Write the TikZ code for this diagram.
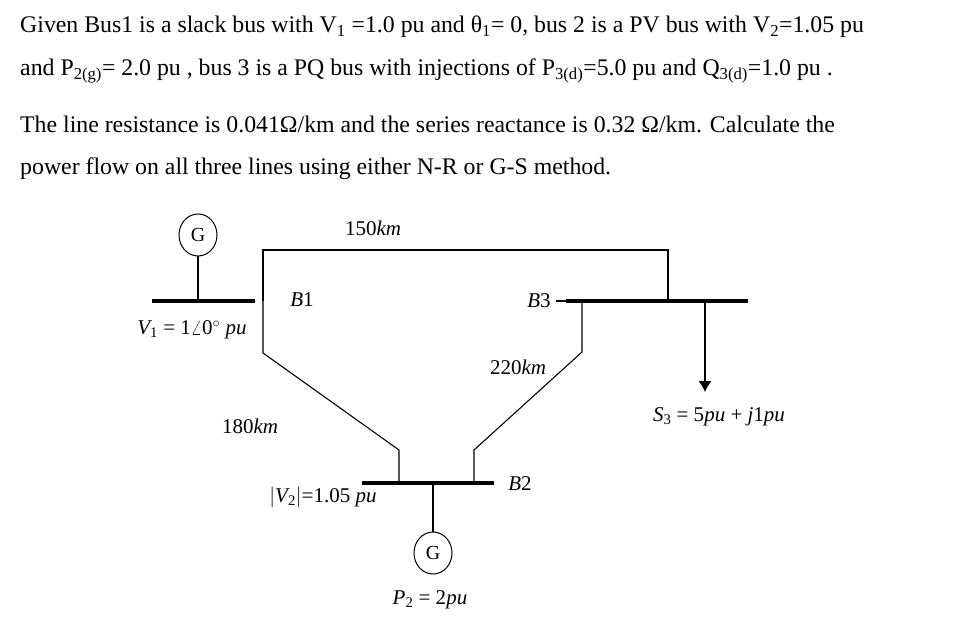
\documentclass[tikz,border=0pt]{standalone}
\usepackage{fontspec}
\setmainfont{Liberation Serif}
\usetikzlibrary{shapes.geometric,arrows.meta}
\begin{document}
\begin{tikzpicture}[x=1pt,y=-1pt,
  txt/.style={anchor=base west,inner sep=0pt,font=\fontsize{23.8}{28}\selectfont},
  lbl/.style={inner sep=0pt,font=\fontsize{21}{24}\selectfont\itshape},
  bus/.style={line width=3.5pt},
  wire/.style={line width=1.1pt},
  gen/.style={draw,ellipse,line width=1pt,minimum width=38pt,minimum height=42pt,inner sep=0pt,font=\fontsize{20}{22}\selectfont}]
\useasboundingbox (0,0) rectangle (953,636);
\node[txt] (l1) at (20,33) {Given Bus1 is a slack bus with V\textsubscript{1} =1.0 pu and θ\textsubscript{1}= 0, bus 2 is a PV bus with V\textsubscript{2}=1.05 pu};
\node[txt] (l2) at (20,76) {and P\textsubscript{2(g)}= 2.0 pu , bus 3 is a PQ bus with injections of P\textsubscript{3(d)}=5.0 pu and Q\textsubscript{3(d)}=1.0 pu .};
\node[txt] (l3) at (20,133) {The line resistance is 0.041Ω/km and the series reactance is 0.32 Ω/km. Calculate the};
\node[txt] (l4) at (20,175) {power flow on all three lines using either N-R or G-S method.};
% buses
\coordinate (b1l) at (152,301); \coordinate (b1r) at (255,301);
\coordinate (b2l) at (362,483); \coordinate (b2r) at (494,483);
\coordinate (b3l) at (566,301); \coordinate (b3r) at (748,301);
\draw[bus] (b1l) -- (b1r);
\draw[bus] (b2l) -- (b2r);
\draw[bus] (b3l) -- (b3r);
\draw[wire] (556,301) -- (b3l);
\node[gen] (g1) at (198,235) {G};
\node[gen] (g2) at (433,553) {G};
\draw[wire] (g1.south) -- (198,301);
\draw[wire] (433,483) -- (g2.north);
% lines
\draw[wire] (263,301) -- (263,250) -- (668,250) -- (668,301);
\draw[wire] (263,301) -- (263,353) -- (399,450) -- (399,483);
\draw[wire] (474,483) -- (474,450) -- (582,352) -- (582,301);
\coordinate (ld) at (705,392);
\draw[wire,-{Latex[length=11pt,width=13pt]}] (705,301) -- (ld);
% labels
\node[lbl] (B1) at (302,300) {B\upshape1};
\node[lbl] (B2) at (520,484) {B\upshape2};
\node[lbl] (B3) at (539,301) {B\upshape3};
\node[lbl] (k150) at (373,228) {\upshape150\itshape km};
\node[lbl] (k220) at (518,367) {\upshape220\itshape km};
\node[lbl] (k180) at (250,426) {\upshape180\itshape km};
\node[lbl] (v1) at (192,330) {V\textsubscript{\upshape1} \upshape= 1$\angle$0$^\circ$ \itshape pu};
\node[lbl] (v2) at (323,497) {$|$V\textsubscript{\upshape2}$|$\upshape =1.05 \itshape pu};
\node[lbl] (p2) at (430,600) {P\textsubscript{\upshape2} \upshape= 2\itshape pu};
\node[lbl] (s3) at (719,417) {S\textsubscript{\upshape3} \upshape= 5\itshape pu \upshape+ \itshape j\upshape1\itshape pu};
\end{tikzpicture}
\end{document}
